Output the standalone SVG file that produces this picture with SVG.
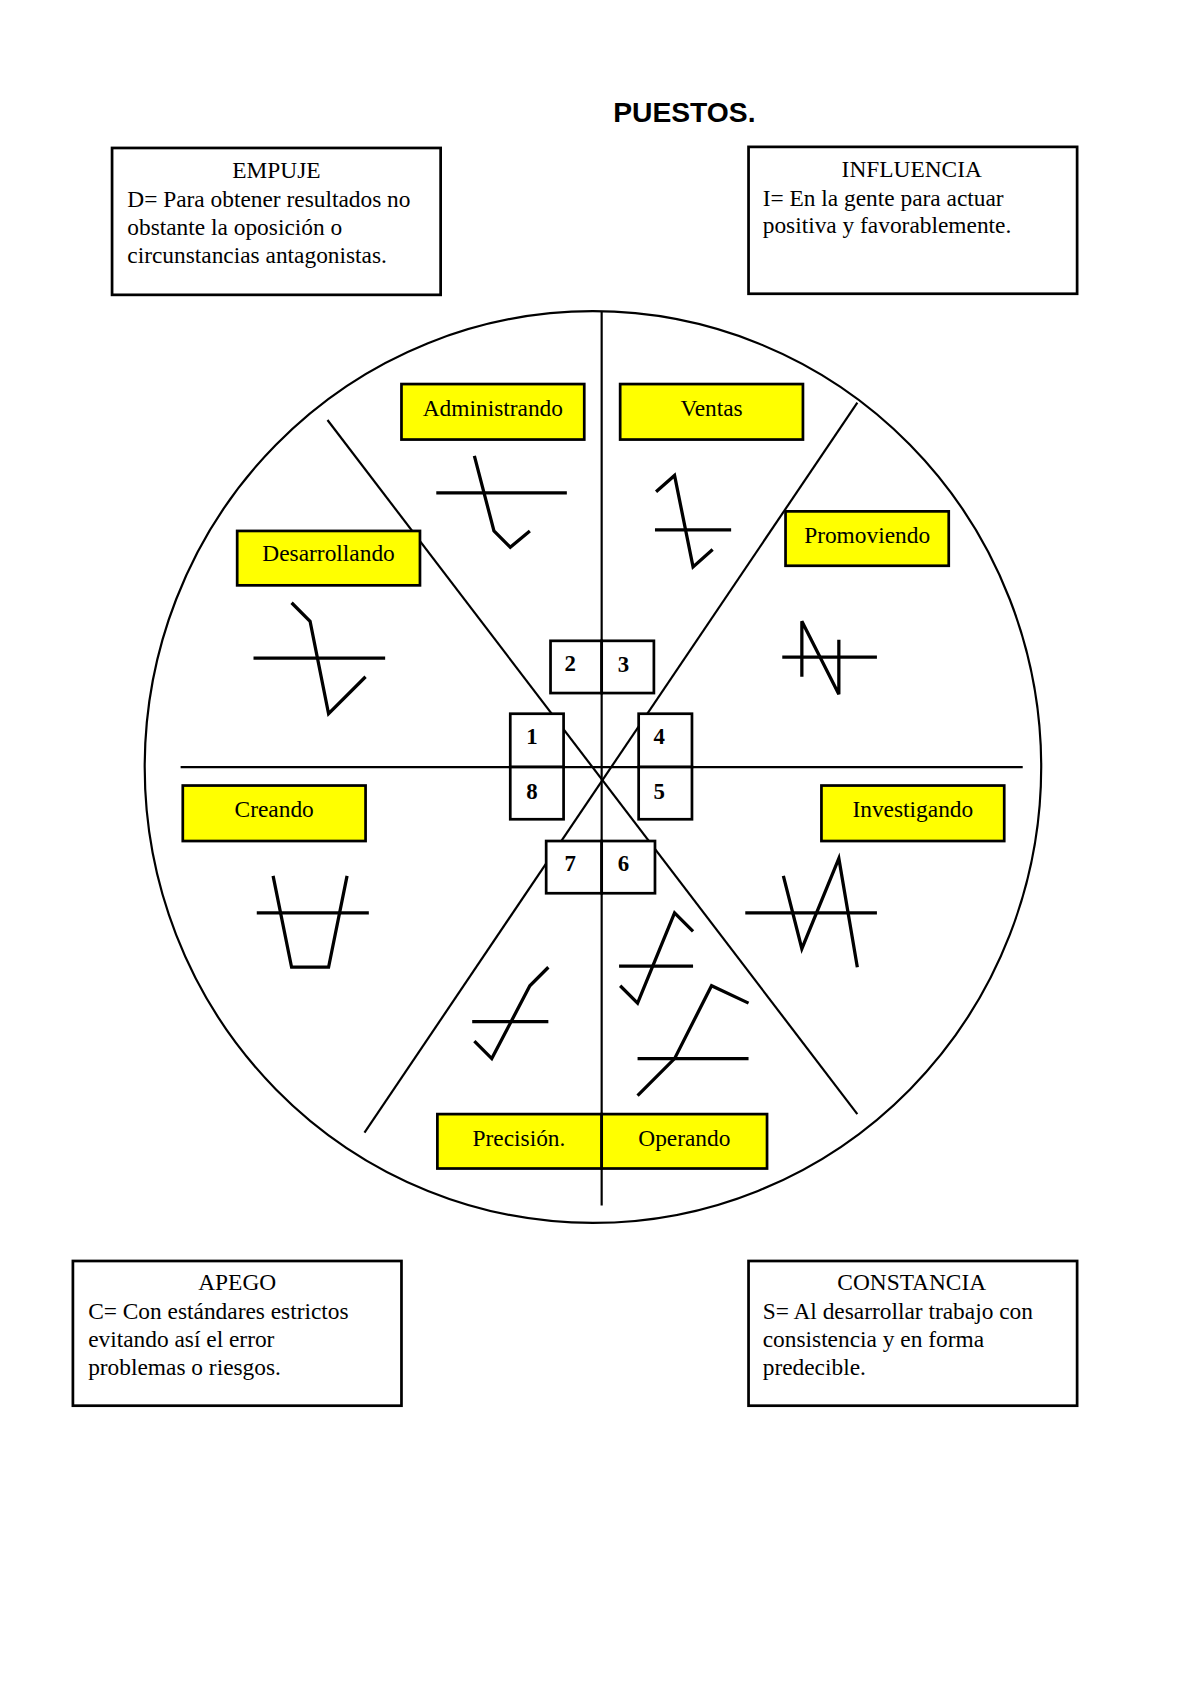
<svg xmlns="http://www.w3.org/2000/svg" width="1200" height="1698" viewBox="0 0 1200 1698">
<style>
.t{font-family:"Liberation Serif",serif;font-size:21.5px;fill:#000}
.c{text-anchor:middle}
.box{fill:#fff;stroke:#000;stroke-width:2.5}
.lab{fill:#ffff00;stroke:#000;stroke-width:2.5}
.ln{stroke:#000;stroke-width:2;fill:none}
.sym{stroke:#000;stroke-width:3;fill:none}
.n{font-family:"Liberation Serif",serif;font-size:21px;font-weight:bold;text-anchor:middle}
</style>
<rect width="1200" height="1698" fill="#fff"/>
<g transform="scale(1.088)">
<text x="629" y="112" font-family="Liberation Sans,sans-serif" font-size="26" font-weight="bold" text-anchor="middle">PUESTOS.</text>
<g id="empuje"><rect class="box" x="103" y="136" width="302" height="135"/>
<text class="t c" x="254" y="164">EMPUJE</text>
<text class="t" x="117" y="190">D= Para obtener resultados no</text>
<text class="t" x="117" y="216">obstante la oposición o</text>
<text class="t" x="117" y="242">circunstancias antagonistas.</text></g>
<g id="influencia"><rect class="box" x="688" y="135" width="302" height="135"/>
<text class="t c" x="838" y="163">INFLUENCIA</text>
<text class="t" x="701" y="189">I= En la gente para actuar</text>
<text class="t" x="701" y="214">positiva y favorablemente.</text></g>
<g id="apego"><rect class="box" x="67" y="1159" width="302" height="133"/>
<text class="t c" x="218" y="1186">APEGO</text>
<text class="t" x="81" y="1212">C= Con estándares estrictos</text>
<text class="t" x="81" y="1238">evitando así el error</text>
<text class="t" x="81" y="1264">problemas o riesgos.</text></g>
<g id="constancia"><rect class="box" x="688" y="1159" width="302" height="133"/>
<text class="t c" x="838" y="1186">CONSTANCIA</text>
<text class="t" x="701" y="1212">S= Al desarrollar trabajo con</text>
<text class="t" x="701" y="1238">consistencia y en forma</text>
<text class="t" x="701" y="1264">predecible.</text></g>
<g id="connectors">
<ellipse class="ln" cx="545" cy="705" rx="412" ry="419"/>
<line class="ln" x1="553" y1="286" x2="553" y2="1108"/>
<line class="ln" x1="166" y1="705" x2="940" y2="705"/>
<line class="ln" x1="301" y1="386" x2="788" y2="1024"/>
<line class="ln" x1="788" y1="370" x2="335" y2="1041"/>
</g>
<g id="numbers">
<rect class="box" x="506" y="589" width="47" height="48"/><text class="n" x="524" y="617">2</text>
<rect class="box" x="553" y="589" width="48" height="48"/><text class="n" x="573" y="618">3</text>
<rect class="box" x="469" y="656" width="49" height="49"/><text class="n" x="489" y="684">1</text>
<rect class="box" x="469" y="705" width="49" height="48"/><text class="n" x="489" y="734">8</text>
<rect class="box" x="587" y="656" width="49" height="49"/><text class="n" x="606" y="684">4</text>
<rect class="box" x="587" y="705" width="49" height="48"/><text class="n" x="606" y="734">5</text>
<rect class="box" x="502" y="773" width="51" height="48"/><text class="n" x="524" y="801">7</text>
<rect class="box" x="553" y="773" width="49" height="48"/><text class="n" x="573" y="801">6</text>
</g>
<g id="administrando"><rect class="lab" x="369" y="353" width="168" height="51"/><text class="t c" x="453" y="382">Administrando</text>
<line class="sym" x1="401" y1="453" x2="521" y2="453"/><polyline class="sym" points="436,419 454,488 469,503 487,488"/></g>
<g id="ventas"><rect class="lab" x="570" y="353" width="168" height="51"/><text class="t c" x="654" y="382">Ventas</text>
<line class="sym" x1="602" y1="487" x2="672" y2="487"/><polyline class="sym" points="603,452 620,437 637,521 655,505"/></g>
<g id="desarrollando"><rect class="lab" x="218" y="488" width="168" height="50"/><text class="t c" x="302" y="516">Desarrollando</text>
<line class="sym" x1="233" y1="605" x2="354" y2="605"/><polyline class="sym" points="268,554 285,571 302,656 336,622"/></g>
<g id="promoviendo"><rect class="lab" x="722" y="470" width="150" height="50"/><text class="t c" x="797" y="499">Promoviendo</text>
<line class="sym" x1="719" y1="604" x2="806" y2="604"/><polyline class="sym" points="737,622 737,571 771,638 771,588"/></g>
<g id="creando"><rect class="lab" x="168" y="722" width="168" height="51"/><text class="t c" x="252" y="751">Creando</text>
<line class="sym" x1="236" y1="839" x2="339" y2="839"/><polyline class="sym" points="251,805 268,889 302,889 319,805"/></g>
<g id="investigando"><rect class="lab" x="755" y="722" width="168" height="51"/><text class="t c" x="839" y="751">Investigando</text>
<line class="sym" x1="685" y1="839" x2="806" y2="839"/><polyline class="sym" points="720,805 737,872 771,789 788,889"/></g>
<g id="precision"><rect class="lab" x="402" y="1024" width="151" height="50"/><text class="t c" x="477" y="1053">Precisión.</text>
<line class="sym" x1="434" y1="939" x2="504" y2="939"/><polyline class="sym" points="436,957 452,973 487,906 504,889"/></g>
<g id="operando"><rect class="lab" x="553" y="1024" width="152" height="50"/><text class="t c" x="629" y="1053">Operando</text>
<line class="sym" x1="569" y1="888" x2="637" y2="888"/><polyline class="sym" points="570,906 586,922 620,839 637,856"/>
<line class="sym" x1="586" y1="973" x2="688" y2="973"/><polyline class="sym" points="586,1007 620,973 654,906 688,922"/></g>
</g>
</svg>
